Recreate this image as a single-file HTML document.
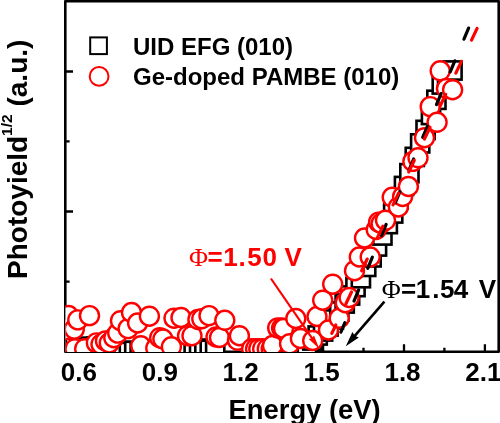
<!DOCTYPE html>
<html><head><meta charset="utf-8"><style>
html,body{margin:0;padding:0;background:#fff;width:500px;height:423px;overflow:hidden}
svg{display:block}
text{font-family:'Liberation Sans', Arial, sans-serif;font-weight:bold}
</style></head><body>
<svg width="500" height="423" viewBox="0 0 500 423">
<rect x="0" y="0" width="500" height="423" fill="#fff"/>
<defs><clipPath id="clip"><rect x="65.4" y="1" width="432" height="351.1"/></clipPath></defs>
<path d="M65.3 351.8 V1.2 H498.7 V351.8 Z" fill="none" stroke="#000" stroke-width="2.6" stroke-linejoin="round"/>
<path d="M80.4 351.8 V344.2 M161.3 351.8 V344.2 M242.2 351.8 V344.2 M323.1 351.8 V344.2 M404.0 351.8 V344.2 M484.9 351.8 V344.2 M120.9 351.8 V347.8 M201.8 351.8 V347.8 M282.7 351.8 V347.8 M363.5 351.8 V347.8 M444.4 351.8 V347.8 M65.3 71.5 H73 M65.3 211.5 H73 M65.3 141.3 H69.6 M65.3 281.7 H69.6" stroke="#000" stroke-width="2.3" fill="none"/>
<g clip-path="url(#clip)">
<g fill="#fff" stroke="#000" stroke-width="2.6">
<rect x="55.1" y="338.1" width="18.2" height="18.2"/>
<rect x="60.5" y="339.0" width="18.2" height="18.2"/>
<rect x="65.9" y="338.5" width="18.2" height="18.2"/>
<rect x="71.3" y="339.2" width="18.2" height="18.2"/>
<rect x="76.7" y="339.3" width="18.2" height="18.2"/>
<rect x="82.1" y="337.6" width="18.2" height="18.2"/>
<rect x="87.5" y="337.4" width="18.2" height="18.2"/>
<rect x="92.9" y="339.9" width="18.2" height="18.2"/>
<rect x="98.3" y="338.2" width="18.2" height="18.2"/>
<rect x="103.7" y="341.1" width="18.2" height="18.2"/>
<rect x="109.1" y="343.4" width="18.2" height="18.2"/>
<rect x="114.4" y="341.8" width="18.2" height="18.2"/>
<rect x="119.8" y="342.9" width="18.2" height="18.2"/>
<rect x="125.2" y="341.8" width="18.2" height="18.2"/>
<rect x="130.6" y="342.3" width="18.2" height="18.2"/>
<rect x="136.0" y="342.4" width="18.2" height="18.2"/>
<rect x="141.4" y="343.8" width="18.2" height="18.2"/>
<rect x="146.8" y="344.5" width="18.2" height="18.2"/>
<rect x="152.2" y="343.5" width="18.2" height="18.2"/>
<rect x="157.6" y="344.1" width="18.2" height="18.2"/>
<rect x="163.0" y="343.9" width="18.2" height="18.2"/>
<rect x="168.4" y="342.1" width="18.2" height="18.2"/>
<rect x="173.8" y="341.7" width="18.2" height="18.2"/>
<rect x="179.2" y="341.2" width="18.2" height="18.2"/>
<rect x="184.6" y="340.3" width="18.2" height="18.2"/>
<rect x="190.0" y="339.5" width="18.2" height="18.2"/>
<rect x="195.3" y="342.0" width="18.2" height="18.2"/>
<rect x="200.7" y="340.8" width="18.2" height="18.2"/>
<rect x="206.1" y="341.6" width="18.2" height="18.2"/>
<rect x="211.5" y="354.5" width="18.2" height="18.2"/>
<rect x="216.9" y="354.0" width="18.2" height="18.2"/>
<rect x="222.3" y="354.7" width="18.2" height="18.2"/>
<rect x="227.7" y="353.1" width="18.2" height="18.2"/>
<rect x="233.1" y="354.3" width="18.2" height="18.2"/>
<rect x="238.5" y="353.2" width="18.2" height="18.2"/>
<rect x="243.9" y="354.7" width="18.2" height="18.2"/>
<rect x="249.3" y="354.5" width="18.2" height="18.2"/>
<rect x="254.7" y="352.2" width="18.2" height="18.2"/>
<rect x="260.1" y="352.3" width="18.2" height="18.2"/>
<rect x="265.5" y="352.6" width="18.2" height="18.2"/>
<rect x="270.9" y="354.8" width="18.2" height="18.2"/>
<rect x="276.2" y="353.2" width="18.2" height="18.2"/>
<rect x="281.6" y="353.8" width="18.2" height="18.2"/>
<rect x="287.0" y="348.4" width="18.2" height="18.2"/>
<rect x="292.4" y="344.4" width="18.2" height="18.2"/>
<rect x="297.8" y="339.4" width="18.2" height="18.2"/>
<rect x="303.2" y="331.4" width="18.2" height="18.2"/>
<rect x="308.6" y="326.4" width="18.2" height="18.2"/>
<rect x="314.0" y="322.4" width="18.2" height="18.2"/>
<rect x="319.4" y="317.4" width="18.2" height="18.2"/>
<rect x="324.8" y="310.4" width="18.2" height="18.2"/>
<rect x="330.2" y="302.4" width="18.2" height="18.2"/>
<rect x="335.6" y="294.4" width="18.2" height="18.2"/>
<rect x="341.0" y="286.4" width="18.2" height="18.2"/>
<rect x="346.4" y="278.0" width="18.2" height="18.2"/>
<rect x="351.8" y="269.1" width="18.2" height="18.2"/>
<rect x="357.1" y="257.8" width="18.2" height="18.2"/>
<rect x="362.5" y="248.3" width="18.2" height="18.2"/>
<rect x="367.9" y="237.4" width="18.2" height="18.2"/>
<rect x="373.3" y="226.4" width="18.2" height="18.2"/>
<rect x="378.7" y="215.0" width="18.2" height="18.2"/>
<rect x="384.1" y="204.4" width="18.2" height="18.2"/>
<rect x="389.5" y="190.4" width="18.2" height="18.2"/>
<rect x="394.9" y="176.9" width="18.2" height="18.2"/>
<rect x="400.3" y="164.1" width="18.2" height="18.2"/>
<rect x="405.7" y="147.8" width="18.2" height="18.2"/>
<rect x="411.1" y="134.3" width="18.2" height="18.2"/>
<rect x="416.5" y="120.8" width="18.2" height="18.2"/>
<rect x="421.9" y="105.9" width="18.2" height="18.2"/>
<rect x="427.3" y="90.7" width="18.2" height="18.2"/>
<rect x="432.7" y="75.4" width="18.2" height="18.2"/>
<rect x="438.0" y="68.4" width="18.2" height="18.2"/>
<rect x="443.4" y="61.4" width="18.2" height="18.2"/>
</g>
<g fill="#fff" stroke="#f00" stroke-width="2.4">
<circle cx="64.5" cy="330.0" r="9.5"/>
<circle cx="68.5" cy="315.5" r="9.5"/>
<circle cx="74.3" cy="329.2" r="9.5"/>
<circle cx="75.0" cy="348.7" r="9.5"/>
<circle cx="77.8" cy="319.9" r="9.5"/>
<circle cx="84.7" cy="348.7" r="9.5"/>
<circle cx="89.5" cy="315.6" r="9.5"/>
<circle cx="96.4" cy="342.9" r="9.5"/>
<circle cx="101.0" cy="344.2" r="9.5"/>
<circle cx="105.5" cy="341.0" r="9.5"/>
<circle cx="109.3" cy="342.9" r="9.5"/>
<circle cx="113.8" cy="337.7" r="9.5"/>
<circle cx="117.7" cy="333.1" r="9.5"/>
<circle cx="120.5" cy="320.7" r="9.5"/>
<circle cx="128.1" cy="328.6" r="9.5"/>
<circle cx="131.5" cy="312.5" r="9.5"/>
<circle cx="137.6" cy="323.0" r="9.5"/>
<circle cx="140.8" cy="345.8" r="9.5"/>
<circle cx="149.4" cy="316.2" r="9.5"/>
<circle cx="155.8" cy="348.0" r="9.5"/>
<circle cx="159.7" cy="337.7" r="9.5"/>
<circle cx="162.9" cy="339.0" r="9.5"/>
<circle cx="171.4" cy="346.8" r="9.5"/>
<circle cx="174.0" cy="318.2" r="9.5"/>
<circle cx="181.0" cy="317.5" r="9.5"/>
<circle cx="187.5" cy="335.7" r="9.5"/>
<circle cx="192.0" cy="335.7" r="9.5"/>
<circle cx="197.9" cy="319.5" r="9.5"/>
<circle cx="201.8" cy="318.8" r="9.5"/>
<circle cx="209.0" cy="315.6" r="9.5"/>
<circle cx="216.0" cy="337.0" r="9.5"/>
<circle cx="219.5" cy="337.5" r="9.5"/>
<circle cx="224.8" cy="320.3" r="9.5"/>
<circle cx="237.5" cy="340.3" r="9.5"/>
<circle cx="239.4" cy="335.7" r="9.5"/>
<circle cx="251.7" cy="348.7" r="9.5"/>
<circle cx="255.6" cy="348.7" r="9.5"/>
<circle cx="258.8" cy="348.7" r="9.5"/>
<circle cx="262.7" cy="348.7" r="9.5"/>
<circle cx="267.3" cy="348.7" r="9.5"/>
<circle cx="271.2" cy="348.7" r="9.5"/>
<circle cx="272.5" cy="345.5" r="9.5"/>
<circle cx="277.7" cy="327.9" r="9.5"/>
<circle cx="281.6" cy="328.0" r="9.5"/>
<circle cx="283.5" cy="328.5" r="9.5"/>
<circle cx="289.6" cy="343.8" r="9.5"/>
<circle cx="295.8" cy="318.5" r="9.5"/>
<circle cx="300.4" cy="338.5" r="9.5"/>
<circle cx="312.7" cy="340.5" r="9.5"/>
<circle cx="317.0" cy="316.5" r="9.5"/>
<circle cx="322.7" cy="300.2" r="9.5"/>
<circle cx="328.5" cy="330.0" r="9.5"/>
<circle cx="332.7" cy="284.2" r="9.5"/>
<circle cx="339.2" cy="318.3" r="9.5"/>
<circle cx="345.3" cy="302.7" r="9.5"/>
<circle cx="349.1" cy="297.5" r="9.5"/>
<circle cx="354.5" cy="270.7" r="9.5"/>
<circle cx="359.3" cy="257.0" r="9.5"/>
<circle cx="364.5" cy="238.0" r="9.5"/>
<circle cx="370.2" cy="257.0" r="9.5"/>
<circle cx="376.2" cy="229.5" r="9.5"/>
<circle cx="378.6" cy="222.1" r="9.5"/>
<circle cx="381.1" cy="223.5" r="9.5"/>
<circle cx="385.5" cy="220.3" r="9.5"/>
<circle cx="392.2" cy="197.3" r="9.5"/>
<circle cx="398.4" cy="207.0" r="9.5"/>
<circle cx="402.6" cy="196.5" r="9.5"/>
<circle cx="408.4" cy="186.5" r="9.5"/>
<circle cx="412.9" cy="161.4" r="9.5"/>
<circle cx="418.0" cy="157.8" r="9.5"/>
<circle cx="424.5" cy="137.7" r="9.5"/>
<circle cx="430.2" cy="106.6" r="9.5"/>
<circle cx="437.1" cy="122.3" r="9.5"/>
<circle cx="440.2" cy="70.8" r="9.5"/>
<circle cx="446.5" cy="88.5" r="9.5"/>
<circle cx="452.6" cy="89.7" r="9.5"/>
</g>
</g>
<path d="M468.6 28.1 L340.9 332.2" stroke="#000" stroke-width="3.2" stroke-linecap="round" stroke-dasharray="12 23.5" stroke-dashoffset="0" fill="none"/>
<path d="M477.1 28.4 L331.8 333.4" stroke="#f00" stroke-width="3.2" stroke-linecap="round" stroke-dasharray="13 23.5" stroke-dashoffset="0" fill="none"/>
<path d="M270.9 278.5 L312.5 338.9" stroke="#f00" stroke-width="2.2" fill="none"/>
<path d="M319.3 348.8 L308.7 339.1 L312.0 338.3 L314.0 335.5 Z" fill="#f00"/>
<path d="M384.4 301.6 L354.3 336.4" stroke="#000" stroke-width="2.6" fill="none"/>
<path d="M345.8 346.2 L352.4 332.1 L354.8 335.8 L358.8 337.6 Z" fill="#000"/>
<text x="78.9" y="381" font-size="26" text-anchor="middle">0.6</text>
<text x="159.8" y="381" font-size="26" text-anchor="middle">0.9</text>
<text x="240.7" y="381" font-size="26" text-anchor="middle">1.2</text>
<text x="321.6" y="381" font-size="26" text-anchor="middle">1.5</text>
<text x="402.5" y="381" font-size="26" text-anchor="middle">1.8</text>
<text x="483.4" y="381" font-size="26" text-anchor="middle">2.1</text>
<text x="228.5" y="419" font-size="27.4">Energy (eV)</text>
<text transform="translate(27,279) rotate(-90)" font-size="28">Photoyield<tspan font-size="15.5" dy="-15.3">1/2</tspan><tspan dy="15.3"> (a.u.)</tspan></text>
<rect x="90.2" y="37.4" width="16.7" height="16.7" fill="none" stroke="#000" stroke-width="2"/>
<circle cx="99.1" cy="76.4" r="9.4" fill="none" stroke="#f00" stroke-width="2"/>
<text x="133" y="55.1" font-size="24">UID EFG (010)</text>
<text x="133" y="84.9" font-size="24">Ge-doped PAMBE (010)</text>
<text y="266.2" font-size="26" fill="#f00"><tspan x="189.0" font-family="Liberation Serif, serif" font-weight="normal">&#934;</tspan><tspan x="207.4">=</tspan><tspan x="223.3">1</tspan><tspan x="238.6">.</tspan><tspan x="247.2">5</tspan><tspan x="262.4">0</tspan><tspan x="284.4">V</tspan></text>
<text y="297.8" font-size="26" fill="#000"><tspan x="381.7" font-family="Liberation Serif, serif" font-weight="normal">&#934;</tspan><tspan x="401.0">=</tspan><tspan x="415.7">1</tspan><tspan x="432.2">.</tspan><tspan x="439.9">5</tspan><tspan x="453.8">4</tspan><tspan x="478.8">V</tspan></text>
</svg></body></html>
